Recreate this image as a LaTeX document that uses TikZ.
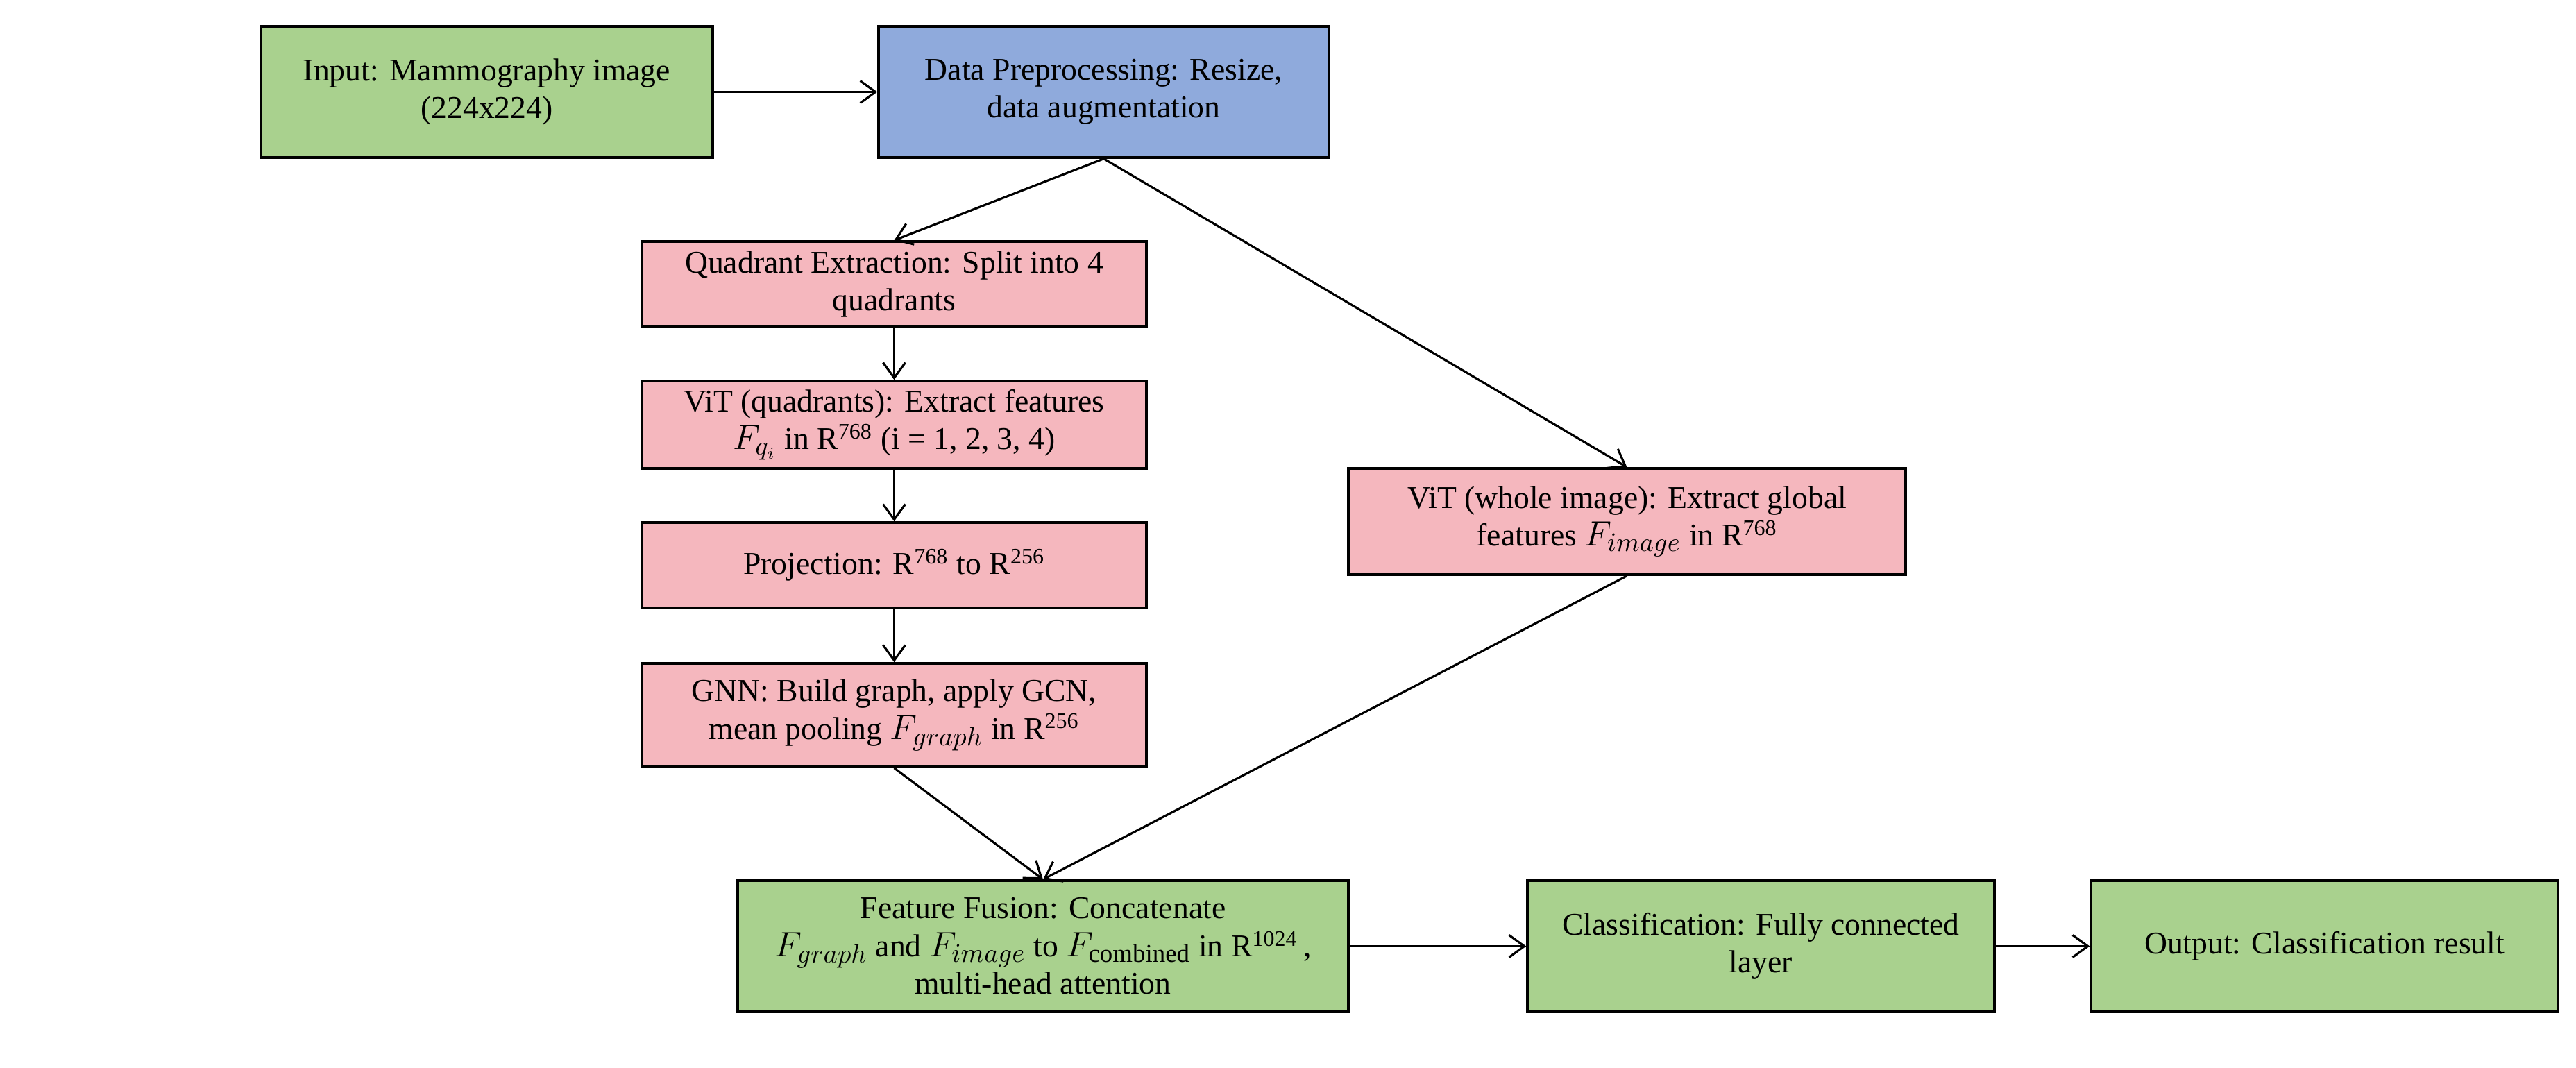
\documentclass[tikz,border=0pt]{standalone}
\usepackage{amsmath}
\usepackage{fontspec}
\setmainfont{Liberation Serif}
\usepackage{xcolor}
\usetikzlibrary{arrows.meta}
\definecolor{stagegreen}{RGB}{169,209,142}
\definecolor{stageblue}{RGB}{143,170,220}
\definecolor{stagepink}{RGB}{245,183,190}
\newcommand{\Rdim}[1]{R\textsuperscript{#1}}
\newcommand{\Fsym}[1]{{\fontsize{15}{15}\selectfont$F_{#1}$}}

\begin{document}
\begin{tikzpicture}[
    stage/.style={draw=black, line width=1pt, align=center, inner sep=2pt,
        font=\fontsize{13}{15.5}\selectfont},
    io stage/.style={stage, fill=stagegreen},
    prep stage/.style={stage, fill=stageblue},
    feat stage/.style={stage, fill=stagepink},
    flow/.style={-{Straight Barb[length=2.2mm,width=3.2mm]}, line width=0.9pt}
]

% Canvas
\useasboundingbox (0,0) rectangle (37.12,-15.39);

% === Top row: input and preprocessing ===
\node[io stage, minimum width=6.51cm, minimum height=1.89cm] (input) at (7.015,-1.325)
    {Input: Mammography image\\(224x224)};
\node[prep stage, minimum width=6.49cm, minimum height=1.89cm] (prep) at (15.905,-1.325)
    {Data Preprocessing: Resize,\\data augmentation};

% === Quadrant branch ===
\node[feat stage, minimum width=7.27cm, minimum height=1.23cm] (quad) at (12.885,-4.095)
    {Quadrant Extraction: Split into 4\\quadrants};
\node[feat stage, minimum width=7.27cm, minimum height=1.26cm] (vitq) at (12.885,-6.12)
    {ViT (quadrants): Extract features\\\Fsym{q_i} in \Rdim{768} (i = 1, 2, 3, 4)};
\node[feat stage, minimum width=7.27cm, minimum height=1.23cm] (proj) at (12.885,-8.145)
    {Projection: \Rdim{768} to \Rdim{256}};
\node[feat stage, minimum width=7.27cm, minimum height=1.49cm] (gnn) at (12.885,-10.305)
    {GNN: Build graph, apply GCN,\\mean pooling \Fsym{graph} in \Rdim{256}};

% === Global branch ===
\node[feat stage, minimum width=8.03cm, minimum height=1.53cm] (vitw) at (23.445,-7.515)
    {ViT (whole image): Extract global\\features \Fsym{image} in \Rdim{768}};

% === Bottom row: fusion and classification ===
\node[io stage, minimum width=8.80cm, minimum height=1.89cm] (fusion) at (15.03,-13.635)
    {Feature Fusion: Concatenate\\\Fsym{graph} and \Fsym{image} to \Fsym{\text{combined}} in \Rdim{1024}\,,\\multi-head attention};
\node[io stage, minimum width=6.73cm, minimum height=1.89cm] (cls) at (25.375,-13.635)
    {Classification: Fully connected\\layer};
\node[io stage, minimum width=6.73cm, minimum height=1.89cm] (out) at (33.495,-13.635)
    {Output: Classification result};

% Connectors
\draw[flow] (input) -- (prep);
\draw[flow] (prep.south) -- (quad.north);
\draw[flow] (prep.south) -- (vitw.north);
\draw[flow] (quad) -- (vitq);
\draw[flow] (vitq) -- (proj);
\draw[flow] (proj) -- (gnn);
\draw[flow] (gnn.south) -- (fusion.north);
\draw[flow] (vitw.south) -- (fusion.north);
\draw[flow] (fusion) -- (cls);
\draw[flow] (cls) -- (out);

\end{tikzpicture}
\end{document}
